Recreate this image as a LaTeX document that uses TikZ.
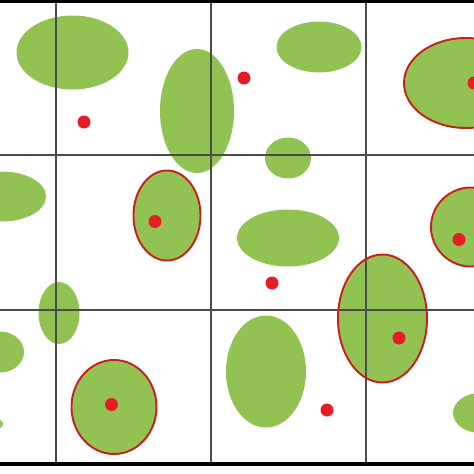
\documentclass[tikz,border=0pt]{standalone}
\usepackage{tikz}

\definecolor{leaf}{RGB}{146,195,82}
\definecolor{rim}{RGB}{200,32,30}
\definecolor{spot}{RGB}{228,30,36}

\begin{document}
\begin{tikzpicture}[
  x=0.02cm, y=-0.02cm,
  blob/.style={fill=leaf},
  rimline/.style={draw=rim, line width=1.1pt},
  spotdot/.style={fill=spot},
  gridline/.style={draw=black!70, line width=0.6pt},
  border/.style={draw=black, line width=1.8pt}
]
\useasboundingbox (0,0) rectangle (474,474);
\clip (0,0) rectangle (474,474);

% plain patches
\foreach \cx/\cy/\rx/\ry in {72.5/52.5/56/37, 197/111/37/62, 2/196.5/44/25,
    319/47/42.5/25.5, 288/158/23/20.5, 288/238/51/28.5, 266/371.5/40/56,
    480/413/27/20, 59/313/20.5/31, 0/352/24/20.5, -4/424/7/5}
  \fill[blob] (\cx,\cy) ellipse [x radius=\rx, y radius=\ry];

% patches with a site inside
\foreach \cx/\cy/\rx/\ry in {167/215.5/33.5/45, 466/83/62/45, 471/227/40/39.5,
    382.5/318.5/44.5/64, 114/407/42.5/47}
  \fill[blob] (\cx,\cy) ellipse [x radius=\rx, y radius=\ry];

% grid
\foreach \gx in {56,211,366}
  \draw[gridline] (\gx,0) -- (\gx,464);
\foreach \gy in {155,310}
  \draw[gridline] (0,\gy) -- (474,\gy);
\draw[border] (0,1.5) -- (474,1.5);
\draw[border] (0,464) -- (474,464);

\foreach \cx/\cy/\rx/\ry in {167/215.5/33.5/45, 466/83/62/45, 471/227/40/39.5,
    382.5/318.5/44.5/64, 114/407/42.5/47}
  \draw[rimline] (\cx,\cy) ellipse [x radius=\rx, y radius=\ry];

% sites
\foreach \sx/\sy in {84/122, 244/78, 155/221.5, 474/83, 459/239.5, 272/283,
    399/338, 327/410, 111.5/404.5}
  \fill[spotdot] (\sx,\sy) circle [radius=6.5];
\end{tikzpicture}
\end{document}
